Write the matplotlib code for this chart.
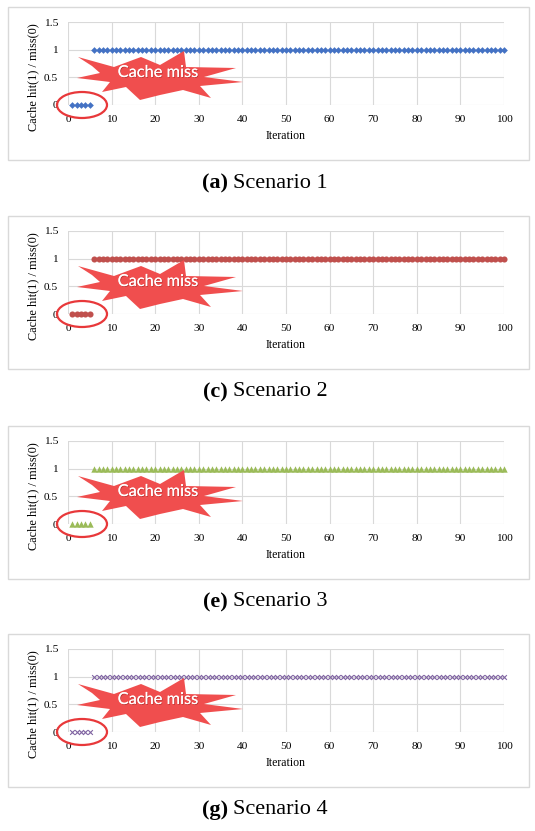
import numpy as np
import matplotlib
matplotlib.use('Agg')
import matplotlib.pyplot as plt
from matplotlib.patches import Polygon, Ellipse, Rectangle
import matplotlib.patheffects as pe

# data
iterations = list(range(1, 101))
miss_count = 5
hits = [0] * miss_count + [1] * (100 - miss_count)

x_ticks = [0, 10, 20, 30, 40, 50, 60, 70, 80, 90, 100]
y_ticks = [0, 0.5, 1, 1.5]
y_tick_labels = ['0', '0.5', '1', '1.5']

panel_letters = ['(a)', '(c)', '(e)', '(g)']
panel_names = ['Scenario 1', 'Scenario 2', 'Scenario 3', 'Scenario 4']
markers = ['D', 'o', '^', 'x']
colors = ['#4472C4', '#C0504D', '#9BBB59', '#8064A2']
marker_sizes = [3.4, 4.4, 4.6, 3.4]

# starburst outline, pixel offsets (x right, y down) inside the chart
star_px = [(78, 57), (114, 67), (141, 57), (160, 65), (184, 51), (186, 67),
           (236, 68), (204, 77), (243, 82), (200, 86), (211, 98), (183, 90),
           (160, 95), (140, 100), (126, 87), (102, 92), (110, 82), (77, 78),
           (100, 73), (92, 66)]

W, H = 535, 831
fig = plt.figure(figsize=(W / 100, H / 100), dpi=100)

offsets = [0, 209, 419, 627]
ax_left, ax_right = 68, 504
ax_top, ax_bottom = 22, 105
x_per = (ax_right - ax_left) / 100
y_per = (ax_bottom - ax_top) / 1.5

for i in range(4):
    off = offsets[i]
    # light frame around chart
    fig.patches.append(Rectangle((8 / W, 1 - (160 + off) / H), 521 / W, 153 / H,
                                 transform=fig.transFigure, fill=False,
                                 edgecolor='#D9D9D9', linewidth=1.0))
    ax = fig.add_axes([ax_left / W, 1 - (ax_bottom + off) / H,
                       (ax_right - ax_left) / W, (ax_bottom - ax_top) / H])
    ax.set_xlim(0, 100)
    ax.set_ylim(0, 1.5)
    ax.set_xticks(x_ticks)
    ax.set_yticks(y_ticks)
    ax.set_yticklabels(y_tick_labels)
    for s in ax.spines.values():
        s.set_visible(False)
    ax.grid(color='#D9D9D9', linewidth=0.8)
    ax.set_axisbelow(True)
    ax.tick_params(length=0, labelsize=8.2)
    ax.tick_params(axis='y', pad=7)
    ax.tick_params(axis='x', pad=7.5)
    for lab in ax.get_xticklabels() + ax.get_yticklabels():
        lab.set_fontfamily('Liberation Serif')

    if markers[i] == 'x':
        ax.scatter(iterations, hits, marker='x', s=marker_sizes[i] ** 2,
                   color=colors[i], linewidths=0.8, clip_on=False, zorder=3)
    else:
        ax.scatter(iterations, hits, marker=markers[i], s=marker_sizes[i] ** 2,
                   color=colors[i], linewidths=0, clip_on=False, zorder=3)

    ax.text(0.5, -(136 - ax_bottom) / (ax_bottom - ax_top), 'Iteration',
            transform=ax.transAxes, ha='center', va='center',
            fontsize=8.5, family='Liberation Serif')
    ax.text((33 - ax_left) / (ax_right - ax_left), (ax_bottom - 77) / (ax_bottom - ax_top),
            'Cache hit(1) / miss(0)', transform=ax.transAxes, rotation=90,
            ha='center', va='center', fontsize=8.8, family='Liberation Serif')

    # starburst callout
    pts = [((px - ax_left) / x_per, (ax_bottom - py) / y_per) for px, py in star_px]
    ax.add_patch(Polygon(pts, closed=True, facecolor='#F04E4E', edgecolor='none',
                         clip_on=False, zorder=4))
    ax.text((158 - ax_left) / x_per, (ax_bottom - 73) / y_per, 'Cache miss',
            ha='center', va='center', color='white', fontsize=11.8, family='Lato',
            zorder=5,
            path_effects=[pe.withSimplePatchShadow(offset=(0.6, -0.6),
                                                   shadow_rgbFace='#8a2020', alpha=0.5),
                          pe.Normal()])
    # red ellipse around misses
    ax.add_patch(Ellipse(((82 - ax_left) / x_per, 0), 50 / x_per, 26 / y_per,
                         fill=False, edgecolor='#E8383A', linewidth=1.6,
                         clip_on=False, zorder=4))

    # caption
    cy = 1 - (183 + off) / H
    fig.text(228 / W, cy, panel_letters[i], ha='right', va='center',
             fontsize=16, fontweight='bold', family='Liberation Serif')
    fig.text(233 / W, cy, panel_names[i], ha='left', va='center',
             fontsize=16, family='Liberation Serif')

fig.savefig('out.png', dpi=100)
